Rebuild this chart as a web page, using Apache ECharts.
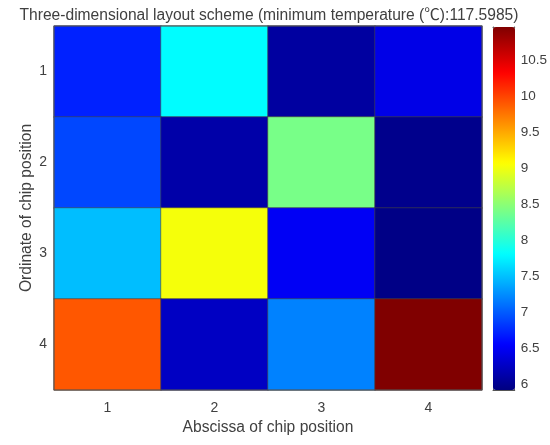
<!DOCTYPE html>
<html>
<head>
<meta charset="utf-8">
<style>html,body{margin:0;padding:0;background:#fff}</style>
<script src="https://cdn.jsdelivr.net/npm/echarts@6/dist/echarts.min.js"></script>
</head>
<body>
<div id="chart" style="width:550px;height:445px"></div>
<script>
var xLabels = ['1', '2', '3', '4'];
var yLabels = ['1', '2', '3', '4'];
var row1 = [6.71, 7.80, 6.08, 6.43];
var row2 = [6.90, 6.12, 8.40, 5.98];
var row3 = [7.49, 9.02, 6.50, 5.95];
var row4 = [9.90, 6.25, 7.19, 10.96];
var rows = [row1, row2, row3, row4];
var colorTicks = [6, 6.5, 7, 7.5, 8, 8.5, 9, 9.5, 10, 10.5];
var minTemp = 5.92;
var maxTemp = 10.96;
var jet = ['#000080', '#0000ff', '#0080ff', '#00ffff', '#80ff80', '#ffff00', '#ff8000', '#ff0000', '#800000'];

var cells = [];
rows.forEach(function (row, r) {
    row.forEach(function (v, c) {
        cells.push([c, r, v]);
    });
});

var font = '"Liberation Sans", "Noto Sans CJK SC", sans-serif';
var textColor = '#404040';
var lineColor = '#555555';

var myChart = echarts.init(document.getElementById('chart'));
var option = {
    animation: false,
    backgroundColor: '#fff',
    title: {
        text: 'Three-dimensional layout scheme (minimum temperature (℃):117.5985)',
        left: 264,
        top: 3,
        textAlign: 'center',
        textStyle: { fontFamily: font, fontSize: 15.6, fontWeight: 'normal', color: textColor }
    },
    grid: [
        { left: 54, top: 26, width: 428, height: 364, show: true, borderColor: lineColor, borderWidth: 1, backgroundColor: 'transparent', z: 5 },
        { left: 493, top: 27, width: 22, height: 363, show: false, z: 10 }
    ],
    xAxis: [{
        type: 'category',
        gridIndex: 0,
        data: xLabels,
        name: 'Abscissa of chip position',
        nameLocation: 'middle',
        nameGap: 28,
        nameTextStyle: { fontFamily: font, fontSize: 15.6, color: textColor },
        axisLine: { show: false },
        axisTick: { show: false },
        axisLabel: { fontFamily: font, fontSize: 14, color: textColor, margin: 11 }
    }, {
        type: 'value',
        gridIndex: 1,
        min: 0,
        max: 1,
        axisLine: { show: true, onZero: false, lineStyle: { color: lineColor } },
        axisTick: { show: false },
        axisLabel: { show: false },
        splitLine: { show: false }
    }, {
        type: 'value',
        gridIndex: 1,
        position: 'top',
        min: 0,
        max: 1,
        axisLine: { show: true, onZero: false, lineStyle: { color: lineColor } },
        axisTick: { show: false },
        axisLabel: { show: false },
        splitLine: { show: false }
    }],
    yAxis: [{
        type: 'category',
        gridIndex: 0,
        inverse: true,
        data: yLabels,
        name: 'Ordinate of chip position',
        nameLocation: 'middle',
        nameGap: 20,
        nameMoveOverlap: false,
        nameTextStyle: { fontFamily: font, fontSize: 15.6, color: textColor },
        axisLine: { show: false },
        axisTick: { show: false },
        axisLabel: { fontFamily: font, fontSize: 14, color: textColor, margin: 7 }
    }, {
        type: 'value',
        gridIndex: 1,
        position: 'right',
        min: minTemp,
        max: maxTemp,
        axisLine: { show: true, onZero: false, lineStyle: { color: lineColor } },
        axisTick: { show: true, inside: true, length: 3, customValues: colorTicks, lineStyle: { color: lineColor } },
        axisLabel: { fontFamily: font, fontSize: 13.5, color: textColor, margin: 6, customValues: colorTicks, showMinLabel: true, showMaxLabel: true },
        splitLine: { show: false }
    }, {
        type: 'value',
        gridIndex: 1,
        position: 'left',
        min: minTemp,
        max: maxTemp,
        axisLine: { show: true, onZero: false, lineStyle: { color: lineColor } },
        axisTick: { show: false },
        axisLabel: { show: false },
        splitLine: { show: false }
    }],
    visualMap: {
        type: 'continuous',
        seriesIndex: 0,
        min: minTemp,
        max: maxTemp,
        left: 493,
        top: 27,
        padding: 0,
        itemWidth: 22,
        itemHeight: 363,
        text: ['', ''],
        calculable: false,
        hoverLink: false,
        realtime: false,
        inRange: { color: jet }
    },
    series: [{
        type: 'heatmap',
        xAxisIndex: 0,
        yAxisIndex: 0,
        data: cells,
        itemStyle: { borderColor: '#444', borderWidth: 0.6 },
        emphasis: { disabled: true }
    }]
};
myChart.setOption(option);
</script>
</body>
</html>
